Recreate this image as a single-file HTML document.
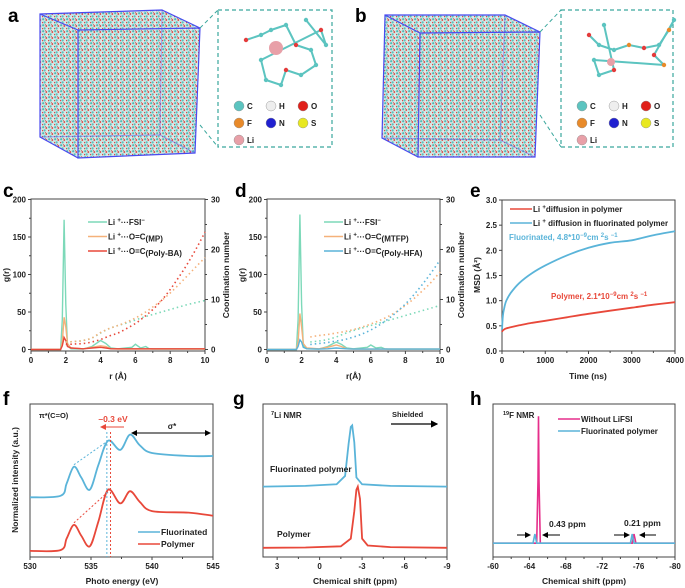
<!DOCTYPE html>
<html><head><meta charset="utf-8"><style>
html,body{margin:0;padding:0;background:#fff;}
svg{display:block;font-family:"Liberation Sans",Arial,sans-serif;}
text{font-weight:bold;}
</style></head><body>
<svg id="fig" width="685" height="588" viewBox="0 0 685 588" xmlns="http://www.w3.org/2000/svg">
<defs>
<pattern id="mol" width="6" height="6" patternUnits="userSpaceOnUse">
<rect width="6" height="6" fill="#cfe6e3"/>
<circle cx="1.2" cy="1.2" r="1.1" fill="#4fbab5"/>
<circle cx="4.3" cy="2" r="0.9" fill="#e0302e"/>
<circle cx="2.6" cy="4.4" r="1.1" fill="#5cc0bb"/>
<circle cx="5.2" cy="5.2" r="0.6" fill="#f2f2f2"/>
<circle cx="0.4" cy="4.6" r="0.7" fill="#e04545"/>
<circle cx="3.4" cy="0.4" r="0.5" fill="#e04545"/>
</pattern>
<marker id="ah" markerWidth="6" markerHeight="6" refX="5" refY="3" orient="auto"><path d="M0,0 L6,3 L0,6 z" fill="#000"/></marker>
<marker id="ahr" markerWidth="6" markerHeight="6" refX="5" refY="3" orient="auto"><path d="M0,0 L6,3 L0,6 z" fill="#e8483a"/></marker>
</defs>
<g id="root"></g>
</svg>
<script>
// ---- data ----
const gr_r = [0,1.7,1.8,1.9,2.0,2.1,2.3,3.0,3.5,4.0,4.3,4.6,5.0,5.8,6.0,6.3,6.6,6.8,7,10];
const c_fsi = [0,0,40,173,60,5,1,0.5,4,12,8,2,1,3,7,2,4,1,0.5,0.5];
const c_mp  = [0,0,10,43,30,8,2,1,3,5,4,1,0.5,0.5,0.5,0.5,0.5,0.5,0.5,0.5];
const c_ba  = [0,0,5,16,12,4,2,1,2,3,2,1,1,1,1,1,1,1,1,1];
const cn_r = [2,2.5,3,3.5,4,4.5,5,5.5,6,6.5,7,7.5,8,8.5,9,9.5,10];
const cn_c_fsi = [1.5,1.6,1.8,2.3,3.3,4.2,4.8,5.3,5.9,6.5,7.0,7.5,8.0,8.5,9.0,9.4,9.8];
const cn_c_mp  = [1.5,1.6,1.8,2.3,3.4,4.2,4.8,5.5,6.3,7.3,8.5,9.8,11.3,13,14.8,16.6,18.4];
const cn_c_ba  = [1.0,1.1,1.2,1.5,2.0,2.7,3.3,4.2,5.2,6.5,8.0,9.8,12,14.5,17.2,20.2,23.5];
const d_fsi = [0,0,40,180,60,5,1,0.5,4,10,7,2,1,3,6,2,3,1,0.5,0.5];
const d_mtfp= [0,0,10,48,30,8,2,1,3,6,4,1,0.5,0.5,0.5,0.5,0.5,0.5,0.5,0.5];
const d_hfa = [0,0,4,13,10,3,1,0.5,1,2,1.5,1,0.5,0.5,0.5,0.5,0.5,0.5,0.5,0.5];
const cn_d_r = [2.5,3,3.5,4,4.5,5,5.5,6,6.5,7,7.5,8,8.5,9,9.5,10];
const cn_d_fsi = [1.5,1.7,2,2.5,3.2,3.8,4.3,4.8,5.3,5.8,6.3,6.8,7.3,7.8,8.3,8.8];
const cn_d_mtfp= [2.5,2.8,3.0,3.3,3.6,4.0,4.5,5.1,5.8,6.6,7.6,8.8,10.2,11.8,13.5,15.5];
const cn_d_hfa = [1.0,1.2,1.4,1.7,2.0,2.5,3.1,3.9,4.9,6.1,7.5,9.1,11,13.1,15.4,17.9];
const e_time = [0,20,50,100,200,400,700,1000,1500,2000,2500,3000,3500,4000];
const e_fluor = [0.4,0.7,0.85,1.0,1.15,1.35,1.55,1.7,1.9,2.05,2.15,2.2,2.3,2.38];
const e_poly  = [0.38,0.41,0.43,0.45,0.47,0.51,0.56,0.6,0.67,0.74,0.8,0.86,0.92,0.97];
const f_e = [530,532.5,533.0,533.6,534.2,534.9,535.6,536.4,537.4,538.2,539,540,543,545];
const f_poly = [0.4,0.45,1.2,2.1,1.4,0.7,2.3,4.4,3.5,4.3,3.6,3.0,2.9,2.7];
const f_fluor= [3.9,4.0,4.8,5.9,5.2,4.4,6.0,7.6,7.0,8.0,7.3,6.8,6.6,6.6];
const g_ppm_p = [4,1,-1.5,-2.2,-2.45,-2.6,-2.7,-2.85,-3.0,-3.4,-5,-9];
const g_poly  = [0.6,0.62,0.7,1.2,3.0,4.4,4.6,3.8,1.2,0.75,0.65,0.6];
const g_ppm_f = [4,1,-1.2,-1.8,-2.05,-2.2,-2.3,-2.45,-2.6,-3.0,-5,-9];
const g_fluor = [4.6,4.65,4.75,5.3,7.4,8.5,8.6,7.5,5.2,4.75,4.65,4.6];
const h_ppm_p = [-60,-64.8,-64.95,-65.0,-65.05,-65.2,-75.3,-75.5,-75.7,-80];
const h_pink  = [0.9,0.9,5,9.2,5,0.9,0.9,1.5,0.9,0.9];
const h_ppm_b = [-60,-64.4,-64.6,-64.8,-75.1,-75.3,-75.5,-80];
const h_blue  = [0.9,0.9,1.5,0.9,0.9,1.5,0.9,0.9];

const NS="http://www.w3.org/2000/svg";
const root=document.getElementById('root');
function el(tag,attrs,parent,txt){const e=document.createElementNS(NS,tag);for(const k in attrs)e.setAttribute(k,attrs[k]);if(txt!==undefined)e.textContent=txt;(parent||root).appendChild(e);return e;}
function lin(d0,d1,r0,r1){return v=>r0+(v-d0)*(r1-r0)/(d1-d0);}
function pathD(xs,ys,sx,sy){return xs.map((x,i)=>(i?'L':'M')+sx(x).toFixed(1)+','+sy(ys[i]).toFixed(1)).join(' ');}
function smoothD(xs,ys,sx,sy){const p=xs.map((x,i)=>[sx(x),sy(ys[i])]);let d='M'+p[0][0]+','+p[0][1];for(let i=0;i<p.length-1;i++){const p0=p[i-1]||p[i],p1=p[i],p2=p[i+1],p3=p[i+2]||p2;const c1=[p1[0]+(p2[0]-p0[0])/6,p1[1]+(p2[1]-p0[1])/6],c2=[p2[0]-(p3[0]-p1[0])/6,p2[1]-(p3[1]-p1[1])/6];d+=` C${c1[0].toFixed(1)},${c1[1].toFixed(1)} ${c2[0].toFixed(1)},${c2[1].toFixed(1)} ${p2[0].toFixed(1)},${p2[1].toFixed(1)}`;}return d;}
function txt(x,y,s,size,anchor,fill,parent){return el('text',{x:x,y:y,'font-size':size||8,'text-anchor':anchor||'start',fill:fill||'#000'},parent,s);}

[['a',8,22],['b',355,22],['c',3,197],['d',235,197],['e',470,197],['f',3,405],['g',233,405],['h',470,405]].forEach(l=>{
  const t=txt(l[1],l[2],l[0],19);
  
  
});

function cube(name,btl,btr,ftl,ftr,bbl,fbl,fbr,bbr){
  const g=el('g',{});
  
  
  el('polygon',{points:[btl,btr,ftr,fbr,fbl,bbl].map(p=>p.join(',')).join(' '),fill:'url(#mol)'},g);
  const s={stroke:'#4a4af0','stroke-width':1.2,fill:'none'};
  el('polygon',Object.assign({points:[ftl,ftr,fbr,fbl].map(p=>p.join(',')).join(' ')},s),g);
  el('polyline',Object.assign({points:[fbl,bbl,btl,btr,ftr].map(p=>p.join(',')).join(' ')},s),g);
  el('line',Object.assign({x1:btl[0],y1:btl[1],x2:ftl[0],y2:ftl[1]},s),g);
  el('polyline',Object.assign({points:[btr,bbr,fbr].map(p=>p.join(',')).join(' '),'stroke-opacity':0.4},s),g);
  el('line',Object.assign({x1:bbl[0],y1:bbl[1],x2:bbr[0],y2:bbr[1],'stroke-opacity':0.4},s),g);
}
cube('cube-a',[40,14],[162,10],[78,30],[200,28],[40,137],[78,158],[195,153],[160,135]);
cube('cube-b',[385,15],[505,15],[420,33],[540,32],[382,138],[418,157],[535,157],[500,140]);

function inset(name,x0,x1,cx,cy1,cy2,b){
  const g=el('g',{});
  
  
  el('rect',{x:x0,y:10,width:x1-x0,height:137,fill:'#fff',stroke:'#3aa79d','stroke-width':1.2,'stroke-dasharray':'4,3'},g);
  el('line',{x1:cx,y1:cy1,x2:x0,y2:10,stroke:'#3aa79d','stroke-dasharray':'4,3'},g);
  el('line',{x1:cx,y1:cy2,x2:x0,y2:147,stroke:'#3aa79d','stroke-dasharray':'4,3'},g);
  const mx=x0+8;
  const pts=b?[[20,35],[30,45],[45,50],[60,45],[75,48],[90,45],[100,30],[105,20],[85,55],[95,65],[25,60],[30,75],[45,70],[35,25]]:[[20,40],[35,35],[45,30],[60,25],[70,45],[85,50],[90,65],[75,75],[60,70],[55,85],[40,80],[35,60],[95,30],[100,45],[80,20]];
  for(let i=0;i<pts.length-1;i++) el('line',{x1:mx+pts[i][0],y1:pts[i][1],x2:mx+pts[i+1][0],y2:pts[i+1][1],stroke:'#5cc4c0','stroke-width':2},g);
  pts.forEach((p,i)=>el('circle',{cx:mx+p[0],cy:p[1],r:2.2,fill:i%4==0?'#e43b3b':(b&&i%3==0?'#e88a2a':'#5cc4c0')},g));
  el('circle',{cx:mx+(b?42:50),cy:b?62:48,r:b?4:7,fill:'#e8a0a8'},g);
  const atoms=[['C','#5cc4c0',0,0],['H','#eeeeee',1,0],['O','#e0201a',2,0],['F','#e88a2a',0,1],['N','#2020d0',1,1],['S','#e8e820',2,1],['Li','#e8a0a8',0,2]];
  atoms.forEach(a=>{const ax=x0+21+a[2]*32,ay=106+a[3]*17;
    el('circle',{cx:ax,cy:ay,r:5,fill:a[1],stroke:'#888','stroke-width':0.4},g);
    txt(ax+8,ay+3,a[0],8,'start','#222',g);});
}
inset('inset-a',218,332,200,28,125,false);
inset('inset-b',561,673,540,32,115,true);

function frame(name,x0,x1,y0,y1){
  const g=el('g',{});
  
  
  el('rect',{x:x0,y:y0,width:x1-x0,height:y1-y0,fill:'none',stroke:'#444','stroke-width':1},g);
  return g;
}
function xticks(g,vals,sx,y,labels,minor){vals.forEach((v,i)=>{el('line',{x1:sx(v),y1:y,x2:sx(v),y2:y+3,stroke:'#444'},g);txt(sx(v),y+12,labels[i],8,'middle','#222',g);});
  (minor||[]).forEach(v=>el('line',{x1:sx(v),y1:y,x2:sx(v),y2:y+2,stroke:'#444'},g));}
function yticks(g,vals,sy,x,labels,side){vals.forEach((v,i)=>{el('line',{x1:sy?x:x,y1:sy(v),x2:x+(side?3:-3),y2:sy(v),stroke:'#444'},g);txt(x+(side?6:-5),sy(v)+3,labels[i],8,side?'start':'end','#222',g);});}
function rotText(x,y,s,g){const t=txt(0,0,s,8.5,'middle','#222',g);t.setAttribute('transform',`translate(${x},${y}) rotate(-90)`);return t;}
function series(name,d,color,w,dash,parent){const p=el('path',{d:d,fill:'none',stroke:color,'stroke-width':w||1.3},parent);if(dash)p.setAttribute('stroke-dasharray',dash);return p;}
function legendLine(g,x,y,w,color,label,sub,fs){el('line',{x1:x,y1:y,x2:x+w,y2:y,stroke:color,'stroke-width':1.5},g);const t=txt(x+w+1,y+3,'',fs||8,'start','#222',g);t.innerHTML=label;return t;}

const TEAL='#7dd9b9',ORANGE='#f5b17a',RED='#e8483a',BLUE='#5ab4d9',PINK='#e62e8b';

function rdf(name,x0,x1,series3,cnR,cn3,colors,labels,xl){
  const g=frame(name,x0,x1,199,351);
  const sx=lin(0,10,x0,x1),sy=lin(0,200,349.5,199.5),sy2=lin(0,30,349.5,199.5);
  xticks(g,[0,2,4,6,8,10],sx,351,['0','2','4','6','8','10'],[1,3,5,7,9]);
  yticks(g,[0,50,100,150,200],sy,x0,['0','50','100','150','200']);
  [25,75,125,175].forEach(v=>el('line',{x1:x0,y1:sy(v),x2:x0-2,y2:sy(v),stroke:'#444'},g));
  yticks(g,[0,10,20,30],sy2,x1,['0','10','20','30'],true);
  [5,15,25].forEach(v=>el('line',{x1:x1,y1:sy2(v),x2:x1+2,y2:sy2(v),stroke:'#444'},g));
  rotText(x0-22,275,'g(r)',g);
  rotText(x1+24,275,'Coordination number',g);
  txt((x0+x1)/2,379,xl,8.5,'middle','#222',g);
  series3.forEach((s,i)=>series(name+'-gr-'+i,pathD(gr_r,s,sx,sy),colors[i],1.4,null,g));
  cn3.forEach((s,i)=>series(name+'-cn-'+i,smoothD(cnR,s,sx,sy2),colors[i],1.6,'1.5,3',g));
  labels.forEach((l,i)=>{const t=legendLine(g,x0+57,222+i*14.5,19,colors[i],l,null,8);});
}
rdf('panel-c',31,205,[c_fsi,c_mp,c_ba],cn_r,[cn_c_fsi,cn_c_mp,cn_c_ba],[TEAL,ORANGE,RED],
 ['Li <tspan dy="-3" font-size="6">+</tspan><tspan dy="3">···FSI</tspan><tspan dy="-3" font-size="6">−</tspan>','Li <tspan dy="-3" font-size="6">+</tspan><tspan dy="3">···O=C</tspan><tspan dy="2">(MP)</tspan>','Li <tspan dy="-3" font-size="6">+</tspan><tspan dy="3">···O=C</tspan><tspan dy="2">(Poly-BA)</tspan>'],'r (Å)');
rdf('panel-d',267,440,[d_fsi,d_mtfp,d_hfa],cn_d_r,[cn_d_fsi,cn_d_mtfp,cn_d_hfa],[TEAL,ORANGE,BLUE],
 ['Li <tspan dy="-3" font-size="6">+</tspan><tspan dy="3">···FSI</tspan><tspan dy="-3" font-size="6">−</tspan>','Li <tspan dy="-3" font-size="6">+</tspan><tspan dy="3">···O=C</tspan><tspan dy="2">(MTFP)</tspan>','Li <tspan dy="-3" font-size="6">+</tspan><tspan dy="3">···O=C</tspan><tspan dy="2">(Poly-HFA)</tspan>'],'r(Å)');

(function(){
  const x0=502,x1=675,g=frame('panel-e',x0,x1,200,351);
  const sx=lin(0,4000,x0,x1),sy=lin(0,3,351,200);
  xticks(g,[0,1000,2000,3000,4000],sx,351,['0','1000','2000','3000','4000'],[500,1500,2500,3500]);
  yticks(g,[0,0.5,1,1.5,2,2.5,3],sy,x0,['0.0','0.5','1.0','1.5','2.0','2.5','3.0']);
  rotText(480,275,'MSD (Å²)',g);
  txt(588,379,'Time (ns)',8.5,'middle','#222',g);
  series('msd-fluorinated',smoothD(e_time,e_fluor,sx,sy),BLUE,1.8,null,g);
  series('msd-polymer',smoothD(e_time,e_poly,sx,sy),RED,1.8,null,g);
  legendLine(g,510,209,22,RED,'Li <tspan dy="-3" font-size="6">+</tspan><tspan dy="3">diffusion in polymer</tspan>');
  legendLine(g,510,223,22,BLUE,'Li <tspan dy="-3" font-size="6">+</tspan><tspan dy="3"> diffusion in fluorinated polymer</tspan>');
  const t1=txt(509,240,'',8,'start',BLUE,g);t1.innerHTML='Fluorinated, 4.8*10<tspan dy="-3" font-size="6">−9</tspan><tspan dy="3">cm </tspan><tspan dy="-3" font-size="6">2</tspan><tspan dy="3">s </tspan><tspan dy="-3" font-size="6">−1</tspan>';
  const t2=txt(551,299,'',8,'start',RED,g);t2.innerHTML='Polymer, 2.1*10<tspan dy="-3" font-size="6">−9</tspan><tspan dy="3">cm </tspan><tspan dy="-3" font-size="6">2</tspan><tspan dy="3">s </tspan><tspan dy="-3" font-size="6">−1</tspan>';
})();

(function(){
  const x0=30,x1=213,g=frame('panel-f',x0,x1,404,557);
  const sx=lin(530,545,x0,x1),sy=lin(0,10,557,404);
  xticks(g,[530,535,540,545],sx,557,['530','535','540','545'],[532.5,537.5,542.5]);
  rotText(18,480,'Normalized intensity (a.u.)',g);
  txt(122,584,'Photo energy (eV)',8.5,'middle','#222',g);
  series('xas-fluorinated',smoothD(f_e,f_fluor,sx,sy),BLUE,1.8,null,g);
  series('xas-polymer',smoothD(f_e,f_poly,sx,sy),RED,1.8,null,g);
  el('line',{x1:sx(533.6),y1:sy(5.9)-2,x2:sx(536.4),y2:sy(7.6),stroke:BLUE,'stroke-dasharray':'2,2'},g);
  el('line',{x1:sx(533.6),y1:sy(2.1)-2,x2:sx(536.6),y2:sy(4.4),stroke:RED,'stroke-dasharray':'2,2'},g);
  el('line',{x1:sx(536.3),y1:432,x2:sx(536.3),y2:557,stroke:BLUE,'stroke-dasharray':'2,2'},g);
  el('line',{x1:sx(536.6),y1:432,x2:sx(536.6),y2:557,stroke:RED,'stroke-dasharray':'2,2'},g);
  el('line',{x1:124,y1:427,x2:101,y2:427,stroke:RED,'marker-end':'url(#ahr)'},g);
  txt(113,422,'–0.3 eV',8.5,'middle',RED,g);
  txt(39,418,'π*(C=O)',7.5,'start','#222',g);
  el('line',{x1:140,y1:433,x2:210,y2:433,stroke:'#000','marker-end':'url(#ah)'},g);
  el('line',{x1:175,y1:433,x2:132,y2:433,stroke:'#000','marker-end':'url(#ah)'},g);
  txt(172,429,'σ*',8,'middle','#222',g);
  legendLine(g,138,532,22,BLUE,'Fluorinated',null,8.5);
  legendLine(g,138,544,22,RED,'Polymer',null,8.5);
})();

(function(){
  const x0=263,x1=447,g=frame('panel-g',x0,x1,404,557);
  const sx=lin(4,-9,x0,x1),sy=lin(0,10,557,404);
  xticks(g,[3,0,-3,-6,-9],sx,557,['3','0','-3','-6','-9'],[1.5,-1.5,-4.5,-7.5]);
  txt(355,584,'Chemical shift (ppm)',8.5,'middle','#222',g);
  series('nmr-li-fluorinated',pathD(g_ppm_f,g_fluor,sx,sy),BLUE,1.8,null,g);
  series('nmr-li-polymer',pathD(g_ppm_p,g_poly,sx,sy),RED,1.8,null,g);
  const t=txt(271,418,'',8,'start','#222',g);t.innerHTML='<tspan dy="-3" font-size="5.5">7</tspan><tspan dy="3">Li NMR</tspan>';
  txt(392,417,'Shielded',7.5,'start','#222',g);
  el('line',{x1:391,y1:424,x2:437,y2:424,stroke:'#000','stroke-width':1.2,'marker-end':'url(#ah)'},g);
  txt(270,472,'Fluorinated polymer',8.5,'start','#222',g);
  txt(277,537,'Polymer',8.5,'start','#222',g);
})();

(function(){
  const x0=493,x1=675,g=frame('panel-h',x0,x1,404,557);
  const sx=lin(-60,-80,x0,x1),sy=lin(0,10,557,404);
  xticks(g,[-60,-64,-68,-72,-76,-80],sx,557,['-60','-64','-68','-72','-76','-80'],[-62,-66,-70,-74,-78]);
  txt(584,584,'Chemical shift (ppm)',8.5,'middle','#222',g);
  series('nmr-f-without-lifsi',pathD(h_ppm_p,h_pink,sx,sy),PINK,1.6,null,g);
  series('nmr-f-fluorinated',pathD(h_ppm_b,h_blue,sx,sy),BLUE,1.6,null,g);
  const t=txt(503,418,'',8,'start','#222',g);t.innerHTML='<tspan dy="-3" font-size="5.5">19</tspan><tspan dy="3">F NMR</tspan>';
  legendLine(g,558,419,22,PINK,'Without LiFSI',null,8);
  legendLine(g,558,431,22,BLUE,'Fluorinated polymer',null,8);
  el('line',{x1:517,y1:535,x2:530,y2:535,stroke:'#000','marker-end':'url(#ah)'},g);
  el('line',{x1:560,y1:535,x2:543,y2:535,stroke:'#000','marker-end':'url(#ah)'},g);
  el('line',{x1:614,y1:535,x2:629,y2:535,stroke:'#000','marker-end':'url(#ah)'},g);
  el('line',{x1:656,y1:535,x2:640,y2:535,stroke:'#000','marker-end':'url(#ah)'},g);
  txt(549,527,'0.43 ppm',8.5,'start','#222',g);
  txt(624,526,'0.21 ppm',8.5,'start','#222',g);
})();
</script>
</body></html>
